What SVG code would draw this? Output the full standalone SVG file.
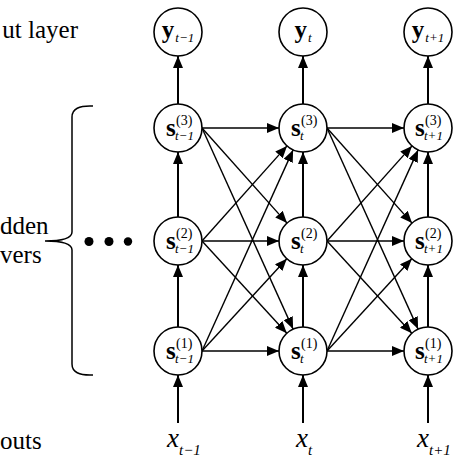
<svg xmlns="http://www.w3.org/2000/svg" width="474" height="474" viewBox="0 0 474 474">
<style>
.n{fill:#fff;stroke:#000;stroke-width:1.6}
text{font-family:"Liberation Serif","Times New Roman","DejaVu Serif",serif;fill:#000}
.b{font-weight:bold;font-size:25px}
.sup{font-size:14px}
.sub{font-size:13px;font-style:italic}
.lab{font-size:25px}
.v{stroke:#000;stroke-width:2;fill:none}
.d{stroke:#000;stroke-width:1.4;fill:none}
</style>
<defs>
<marker id="ah" markerUnits="userSpaceOnUse" markerWidth="12" markerHeight="10" refX="12" refY="5" orient="auto">
<path d="M0,0 L12,5 L0,10 z" fill="#000"/>
</marker>
</defs>
<rect width="474" height="474" fill="#fff"/>
<g id="labels">
<text class="lab" x="78" y="38" text-anchor="end">ut layer</text>
<text class="lab" x="0" y="234">dden</text>
<text class="lab" x="0" y="263">vers</text>
<text class="lab" x="0" y="449">outs</text>
</g>
<g id="brace">
<path d="M93,106 Q72,105 72,117 L72,232 Q72,241 45,241 Q72,241 72,250 L72,364 Q72,376 93,375" fill="none" stroke="#000" stroke-width="1.5"/>
<circle cx="89" cy="241.5" r="4.5"/>
<circle cx="109" cy="241.5" r="4.5"/>
<circle cx="128" cy="241.5" r="4.2"/>
</g>
<g id="connectors" marker-end="url(#ah)">
<g class="v">
<path d="M178,423 L178,375"/><path d="M303,423 L303,375"/><path d="M428,423 L428,375"/>
<path d="M178,327 L178,265"/><path d="M303,327 L303,265"/><path d="M428,327 L428,265"/>
<path d="M178,217 L178,152"/><path d="M303,217 L303,152"/><path d="M428,217 L428,152"/>
<path d="M178,104 L178,56"/><path d="M303,104 L303,56"/><path d="M428,104 L428,56"/>
</g>
<g class="d">
<path d="M202,128 L279,128"/><path d="M202,128 L287,223.1"/><path d="M202,128 L293.1,329.1"/>
<path d="M202,241 L287,145.9"/><path d="M202,241 L279,241"/><path d="M202,241 L286.8,333.3"/>
<path d="M202,351 L293.1,149.9"/><path d="M202,351 L286.8,258.7"/><path d="M202,351 L279,351"/>
<path d="M327,128 L404,128"/><path d="M327,128 L412,223.1"/><path d="M327,128 L418.1,329.1"/>
<path d="M327,241 L412,145.9"/><path d="M327,241 L404,241"/><path d="M327,241 L411.8,333.3"/>
<path d="M327,351 L418.1,149.9"/><path d="M327,351 L411.8,258.7"/><path d="M327,351 L404,351"/>
</g>
</g>
<g id="y_tm1"><circle class="n" cx="178" cy="32" r="24"/><text x="178" y="38" text-anchor="middle"><tspan class="b">y</tspan><tspan class="sub" dx="1" dy="4">t−1</tspan></text></g>
<g id="y_t"><circle class="n" cx="303" cy="32" r="24"/><text x="303" y="38" text-anchor="middle"><tspan class="b">y</tspan><tspan class="sub" dx="1" dy="4">t</tspan></text></g>
<g id="y_tp1"><circle class="n" cx="428" cy="32" r="24"/><text x="428" y="38" text-anchor="middle"><tspan class="b">y</tspan><tspan class="sub" dx="1" dy="4">t+1</tspan></text></g>

<g id="s3_tm1"><circle class="n" cx="178" cy="128" r="24"/><text class="b" x="166" y="136">s</text><text class="sup" x="176" y="125">(3)</text><text class="sub" x="175" y="140">t−1</text></g>
<g id="s2_tm1"><circle class="n" cx="178" cy="241" r="24"/><text class="b" x="166" y="249">s</text><text class="sup" x="176" y="238">(2)</text><text class="sub" x="175" y="253">t−1</text></g>
<g id="s1_tm1"><circle class="n" cx="178" cy="351" r="24"/><text class="b" x="166" y="359">s</text><text class="sup" x="176" y="348">(1)</text><text class="sub" x="175" y="363">t−1</text></g>

<g id="s3_t"><circle class="n" cx="303" cy="128" r="24"/><text class="b" x="291" y="136">s</text><text class="sup" x="301" y="125">(3)</text><text class="sub" x="300" y="140">t</text></g>
<g id="s2_t"><circle class="n" cx="303" cy="241" r="24"/><text class="b" x="291" y="249">s</text><text class="sup" x="301" y="238">(2)</text><text class="sub" x="300" y="253">t</text></g>
<g id="s1_t"><circle class="n" cx="303" cy="351" r="24"/><text class="b" x="291" y="359">s</text><text class="sup" x="301" y="348">(1)</text><text class="sub" x="300" y="363">t</text></g>

<g id="s3_tp1"><circle class="n" cx="428" cy="128" r="24"/><text class="b" x="415" y="136">s</text><text class="sup" x="425" y="125">(3)</text><text class="sub" x="424" y="140">t+1</text></g>
<g id="s2_tp1"><circle class="n" cx="428" cy="241" r="24"/><text class="b" x="415" y="249">s</text><text class="sup" x="425" y="238">(2)</text><text class="sub" x="424" y="253">t+1</text></g>
<g id="s1_tp1"><circle class="n" cx="428" cy="351" r="24"/><text class="b" x="415" y="359">s</text><text class="sup" x="425" y="348">(1)</text><text class="sub" x="424" y="363">t+1</text></g>

<g id="x_tm1"><text x="167" y="447" font-size="27" font-style="italic">x<tspan font-size="15" dy="8">t−1</tspan></text></g>
<g id="x_t"><text x="296" y="447" font-size="27" font-style="italic">x<tspan font-size="15" dy="8">t</tspan></text></g>
<g id="x_tp1"><text x="417" y="447" font-size="27" font-style="italic">x<tspan font-size="15" dy="8">t+1</tspan></text></g>
</svg>
